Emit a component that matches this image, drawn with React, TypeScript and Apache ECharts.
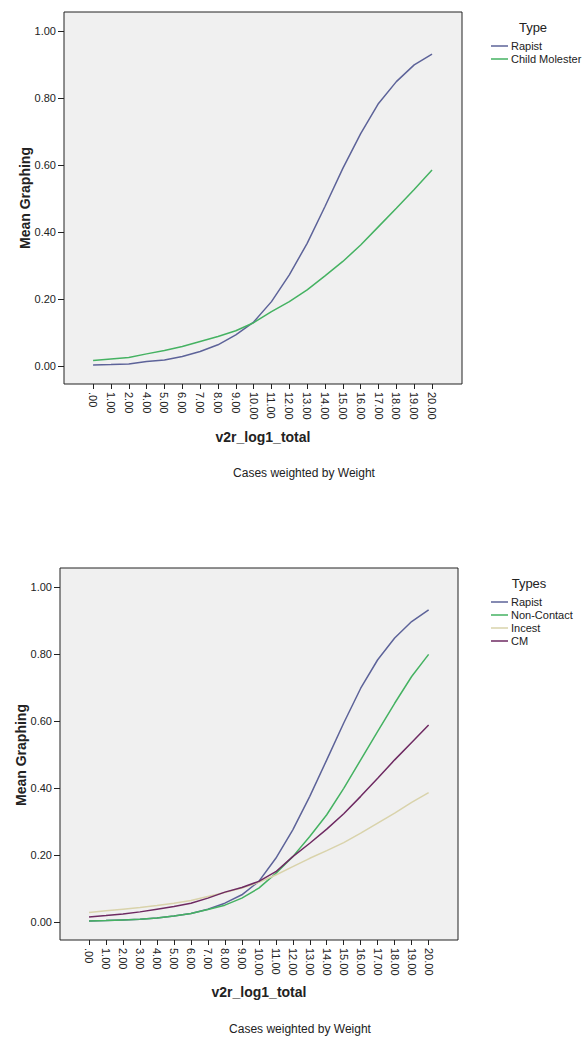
import React, { useEffect, useRef } from "react";
import * as echarts from "echarts";

const topCategories = [".00", "1.00", "2.00", "4.00", "5.00", "6.00", "7.00", "8.00", "9.00", "10.00", "11.00", "12.00", "13.00", "14.00", "15.00", "16.00", "17.00", "18.00", "19.00", "20.00"];
const topRapist = [0.003, 0.004, 0.006, 0.013, 0.018, 0.028, 0.043, 0.063, 0.093, 0.131, 0.192, 0.272, 0.366, 0.476, 0.59, 0.694, 0.784, 0.849, 0.899, 0.931];
const topChildMolester = [0.016, 0.021, 0.025, 0.036, 0.046, 0.058, 0.073, 0.088, 0.105, 0.129, 0.162, 0.192, 0.227, 0.269, 0.312, 0.361, 0.416, 0.471, 0.527, 0.585];

const bottomCategories = [".00", "1.00", "2.00", "3.00", "4.00", "5.00", "6.00", "7.00", "8.00", "9.00", "10.00", "11.00", "12.00", "13.00", "14.00", "15.00", "16.00", "17.00", "18.00", "19.00", "20.00"];
const bottomRapist = [0.003, 0.004, 0.006, 0.008, 0.012, 0.018, 0.025, 0.038, 0.056, 0.081, 0.121, 0.19, 0.275, 0.375, 0.484, 0.594, 0.698, 0.783, 0.848, 0.897, 0.932];
const bottomNonContact = [0.003, 0.004, 0.006, 0.008, 0.012, 0.018, 0.025, 0.037, 0.05, 0.071, 0.101, 0.145, 0.195, 0.255, 0.32, 0.399, 0.484, 0.569, 0.653, 0.733, 0.799];
const bottomIncest = [0.028, 0.033, 0.038, 0.043, 0.049, 0.056, 0.064, 0.076, 0.088, 0.101, 0.118, 0.14, 0.165, 0.19, 0.213, 0.237, 0.265, 0.295, 0.325, 0.357, 0.386];
const bottomCM = [0.015, 0.019, 0.024, 0.03, 0.038, 0.046, 0.056, 0.071, 0.089, 0.103, 0.121, 0.15, 0.195, 0.235, 0.277, 0.323, 0.375, 0.429, 0.484, 0.536, 0.588];

const yTicks = [0, 0.2, 0.4, 0.6, 0.8, 1.0];

const FONT = "Arial, 'Liberation Sans', sans-serif";
const C_RAPIST = "#5d6399";
const C_GREEN = "#45b262";
const C_INCEST = "#d9d3ab";
const C_CM = "#6e2a62";

function toPoints(values: number[]) {
  return values.map((v, i) => [i, v]);
}

export default function App() {
  const ref = useRef<HTMLDivElement>(null);
  useEffect(() => {
    if (!ref.current) return;
    const chart = echarts.init(ref.current, null, { renderer: "svg" });

    const yAxisCommon = (gridIndex: number) => ({
      type: "value",
      gridIndex,
      min: -0.054,
      max: 1.057,
      splitLine: { show: false },
      axisLine: { show: false, onZero: false },
      axisTick: { show: true, length: 6, customValues: yTicks, lineStyle: { color: "#222" } },
      axisLabel: {
        customValues: yTicks,
        formatter: (v: number) => v.toFixed(2),
        fontFamily: FONT,
        fontSize: 11,
        color: "#222",
        margin: 8,
      },
    });

    const xAxisCommon = (gridIndex: number, cats: string[], min: number, max: number) => {
      const idx = cats.map((_, i) => i);
      return {
        type: "value",
        gridIndex,
        min,
        max,
        splitLine: { show: false },
        axisLine: { show: false, onZero: false },
        axisTick: { show: true, length: 5, customValues: idx, lineStyle: { color: "#222" } },
        axisLabel: {
          customValues: idx,
          rotate: -90,
          formatter: (v: number) => cats[Math.round(v)] ?? "",
          fontFamily: FONT,
          fontSize: 11,
          color: "#222",
          margin: 8,
        },
      };
    };

    const lineSeries = (name: string, data: number[], color: string, gridIdx: number) => ({
      type: "line",
      name,
      xAxisIndex: gridIdx,
      yAxisIndex: gridIdx,
      data: toPoints(data),
      symbol: "none",
      lineStyle: { color, width: 1.5 },
      itemStyle: { color },
    });

    const legendCommon = {
      orient: "vertical",
      icon: "rect",
      itemWidth: 17,
      itemHeight: 1.5,
      itemGap: 1,
      padding: 0,
      selectedMode: false,
      textStyle: { fontFamily: FONT, fontSize: 11, color: "#222", lineHeight: 12, padding: [0, 0, 0, -2] },
    };

    const textEl = (text: string, x: number, y: number, font: string, rotation = 0) => ({
      type: "text",
      x,
      y,
      rotation,
      style: { text, font, fill: "#222", align: "center", verticalAlign: "middle" },
    });

    chart.setOption({
      animation: false,
      backgroundColor: "#ffffff",
      grid: [
        { left: 64, top: 12, width: 398, height: 372, show: true, backgroundColor: "#f0f0f0", borderColor: "#222", borderWidth: 1 },
        { left: 60, top: 568, width: 398, height: 372, show: true, backgroundColor: "#f0f0f0", borderColor: "#222", borderWidth: 1 },
      ],
      xAxis: [
        xAxisCommon(0, topCategories, -1.63, 20.68),
        xAxisCommon(1, bottomCategories, -1.71, 21.73),
      ],
      yAxis: [yAxisCommon(0), yAxisCommon(1)],
      legend: [
        { ...legendCommon, left: 491, top: 40, data: ["Rapist", "Child Molester"] },
        { ...legendCommon, left: 491, top: 596, data: ["Rapist", "Non-Contact", "Incest", "CM"] },
      ],
      series: [
        lineSeries("Rapist", topRapist, C_RAPIST, 0),
        lineSeries("Child Molester", topChildMolester, C_GREEN, 0),
        lineSeries("Rapist", bottomRapist, C_RAPIST, 1),
        lineSeries("Non-Contact", bottomNonContact, C_GREEN, 1),
        lineSeries("Incest", bottomIncest, C_INCEST, 1),
        lineSeries("CM", bottomCM, C_CM, 1),
      ],
      graphic: [
        textEl("Mean Graphing", 25, 198, `bold 14px ${FONT}`, Math.PI / 2),
        textEl("v2r_log1_total", 263, 437, `bold 14px ${FONT}`),
        textEl("Cases weighted by Weight", 304, 473, `12px ${FONT}`),
        textEl("Type", 533, 27, `13px ${FONT}`),
        textEl("Mean Graphing", 21, 755, `bold 14px ${FONT}`, Math.PI / 2),
        textEl("v2r_log1_total", 259, 992, `bold 14px ${FONT}`),
        textEl("Cases weighted by Weight", 300, 1029, `12px ${FONT}`),
        textEl("Types", 529, 583, `13px ${FONT}`),
      ],
    });
    return () => chart.dispose();
  }, []);
  return (
    <div
      ref={ref}
      style={{ position: "absolute", left: 0, top: 0, width: 585, height: 1047, background: "#fff" }}
    />
  );
}
